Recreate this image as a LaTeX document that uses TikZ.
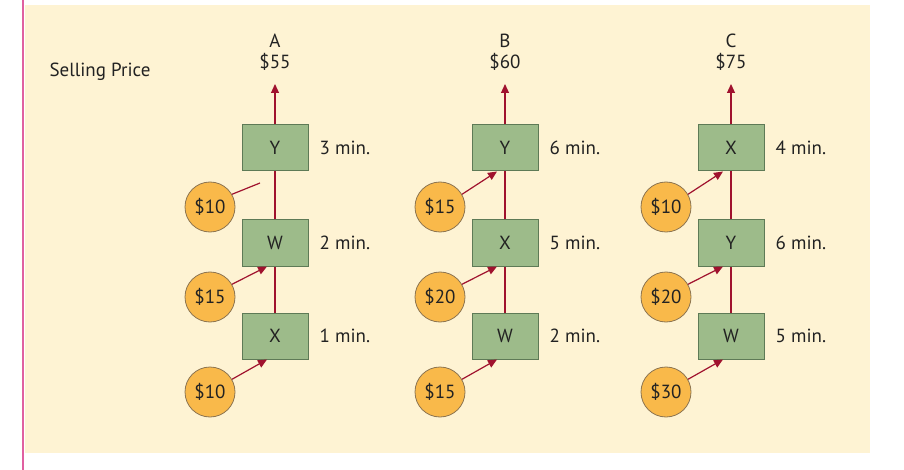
\documentclass[tikz,border=0pt]{standalone}
\usepackage{fontspec}
\setmainfont{PT Sans}
\usetikzlibrary{arrows.meta}
\definecolor{bg}{HTML}{FEF3D3}
\definecolor{boxf}{HTML}{9DBB8A}
\definecolor{boxd}{HTML}{5E7A56}
\definecolor{cf}{HTML}{F9B94A}
\definecolor{cd}{HTML}{8C7450}
\definecolor{arr}{HTML}{A0122E}
\definecolor{pinkl}{HTML}{E060A0}
\definecolor{txt}{HTML}{222222}
\tikzset{
 every node/.style={text=txt},
 stage/.style={draw=boxd,fill=boxf,line width=1pt,minimum width=66pt,minimum height=46pt,font=\fontsize{19}{19}\selectfont,inner sep=0pt},
 cost/.style={circle,draw=cd,fill=cf,line width=0.8pt,minimum size=50pt,inner sep=0pt,font=\fontsize{19}{19}\selectfont},
 lbl/.style={font=\fontsize{19}{19}\selectfont,anchor=west,inner sep=0pt},
 head/.style={font=\fontsize{19}{19}\selectfont,inner sep=0pt},
 flow/.style={draw=arr,line width=1.2pt},
 flowa/.style={flow,-{Triangle[length=9pt,width=8pt]}},
}
\begin{document}
\begin{tikzpicture}[x=1pt,y=-1pt]
\useasboundingbox (0,0) rectangle (904,470);
\fill[white] (0,0) rectangle (904,470);
\fill[bg] (25,5) rectangle (870,453);
\draw[pinkl,line width=2.5pt] (23,0) -- (23,470);
\node[font=\fontsize{19}{19}\selectfont,anchor=west] (sp) at (46,72) {Selling Price};
\foreach \n/\cx/\t/\p/\a/\b/\c/\ta/\tb/\tc/\ca/\cb/\cc in {
  A/275/A/\$55/Y/W/X/3 min./2 min./1 min./\$10/\$15/\$10,
  B/505/B/\$60/Y/X/W/6 min./5 min./2 min./\$15/\$20/\$15,
  C/731/C/\$75/X/Y/W/4 min./6 min./5 min./\$10/\$20/\$30}{
  \node[head] (h\n) at (\cx,41) {\t};
  \node[head] (p\n) at (\cx,62) {\p};
  \node[stage] (s1\n) at (\cx,148) {\a};
  \node[stage] (s2\n) at (\cx,243) {\b};
  \node[stage] (s3\n) at (\cx,336) {\c};
  \node[lbl] at ([xshift=11pt]s1\n.east) {\ta};
  \node[lbl] at ([xshift=11pt]s2\n.east) {\tb};
  \node[lbl] at ([xshift=11pt]s3\n.east) {\tc};
  \node[cost] (c1\n) at (\cx-65,207) {\ca};
  \node[cost] (c2\n) at (\cx-65,297) {\cb};
  \node[cost] (c3\n) at (\cx-65,392) {\cc};
  \coordinate (top\n) at (\cx,84);
  \draw[flowa] (s1\n.north) -- (top\n);
  \draw[flow] (s2\n.north) -- (s1\n.south);
  \draw[flow] (s3\n.north) -- (s2\n.south);
  \draw[flowa] (c3\n.30) -- ([xshift=-8pt]s3\n.south);
  \draw[flowa] (c2\n.30) -- ([xshift=-8pt]s2\n.south);
}
\coordinate (endA) at (260,183);
\draw[flow] (c1A.30) -- (endA);
\draw[flowa] (c1B.30) -- ([xshift=-8pt]s1B.south);
\draw[flowa] (c1C.30) -- ([xshift=-8pt]s1C.south);
\end{tikzpicture}
\end{document}
